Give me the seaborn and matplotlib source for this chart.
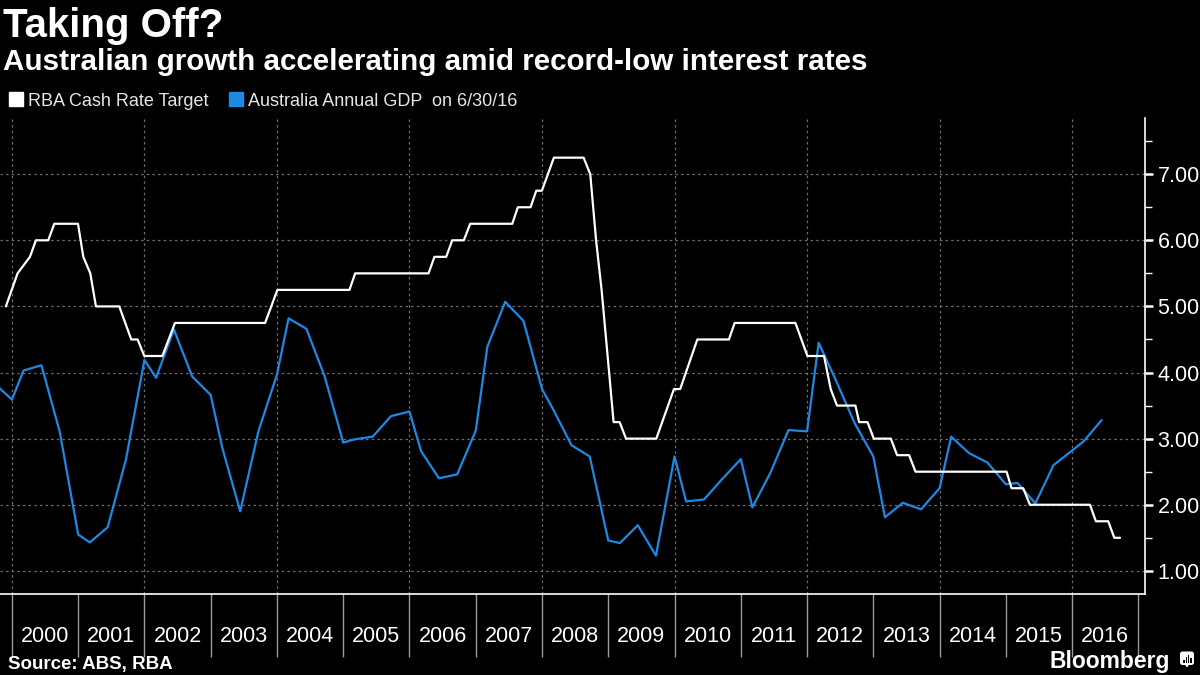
import matplotlib
matplotlib.use("Agg")
import matplotlib.pyplot as plt
import seaborn as sns
import pandas as pd
import numpy as np
from matplotlib import font_manager as fm
from matplotlib.lines import Line2D
from matplotlib.patches import FancyBboxPatch, Rectangle

# ---------------- data ----------------
# RBA cash rate target: vertices of the plotted line (decimal year, %)
rba_dates = [1999.909, 2000.085, 2000.272, 2000.362, 2000.548, 2000.639, 2000.997, 2001.077,
             2001.183, 2001.268, 2001.620, 2001.801, 2001.897, 2001.998, 2002.270, 2002.461,
             2003.821, 2004.006, 2005.094, 2005.180, 2006.287, 2006.377, 2006.554, 2006.645,
             2006.820, 2006.916, 2007.551, 2007.635, 2007.827, 2007.913, 2007.998, 2008.179,
             2008.628, 2008.728, 2008.816, 2008.899, 2008.990, 2009.080, 2009.171, 2009.268,
             2009.725, 2009.991, 2010.085, 2010.344, 2010.821, 2010.907, 2011.824, 2012.005,
             2012.256, 2012.357, 2012.452, 2012.730, 2012.786, 2012.912, 2013.007, 2013.264,
             2013.359, 2013.540, 2013.637, 2015.011, 2015.086, 2015.262, 2015.363, 2016.269,
             2016.359, 2016.545, 2016.637, 2016.723]
rba_rate = [5.00, 5.50, 5.75, 6.00, 6.00, 6.25, 6.25, 5.75,
            5.50, 5.00, 5.00, 4.50, 4.50, 4.25, 4.25, 4.75,
            4.75, 5.25, 5.25, 5.50, 5.50, 5.75, 5.75, 6.00,
            6.00, 6.25, 6.25, 6.50, 6.50, 6.75, 6.75, 7.25,
            7.25, 7.00, 6.00, 5.25, 4.25, 3.25, 3.25, 3.00,
            3.00, 3.75, 3.75, 4.50, 4.50, 4.75, 4.75, 4.25,
            4.25, 3.75, 3.50, 3.50, 3.25, 3.25, 3.00, 3.00,
            2.75, 2.75, 2.50, 2.50, 2.25, 2.25, 2.00, 2.00,
            1.75, 1.75, 1.50, 1.50]

# Australia annual GDP growth (quarterly points, decimal year, %)
gdp_dates = [1999.72,
             2000.0, 2000.175, 2000.445, 2000.72, 2001.0, 2001.175, 2001.445, 2001.72,
             2002.0, 2002.175, 2002.445, 2002.72, 2003.0, 2003.175, 2003.445, 2003.72,
             2004.0, 2004.175, 2004.445, 2004.72, 2005.0, 2005.175, 2005.445, 2005.72,
             2006.0, 2006.175, 2006.445, 2006.72, 2007.0, 2007.175, 2007.445, 2007.72,
             2008.0, 2008.175, 2008.445, 2008.72, 2009.0, 2009.175, 2009.445, 2009.72,
             2010.0, 2010.175, 2010.445, 2010.72, 2011.0, 2011.175, 2011.445, 2011.72,
             2012.0, 2012.175, 2012.445, 2012.72, 2013.0, 2013.175, 2013.445, 2013.72,
             2014.0, 2014.175, 2014.445, 2014.72, 2015.0, 2015.175, 2015.445, 2015.72,
             2016.0, 2016.175, 2016.445]
gdp_growth = [3.85,
              3.59, 4.03, 4.11, 3.11, 1.55, 1.43, 1.66, 2.68,
              4.19, 3.92, 4.65, 3.94, 3.66, 2.86, 1.90, 3.11,
              3.97, 4.82, 4.66, 3.94, 2.94, 2.99, 3.03, 3.34,
              3.41, 2.81, 2.40, 2.46, 3.12, 4.39, 5.07, 4.78,
              3.75, 3.43, 2.90, 2.73, 1.46, 1.42, 1.69, 1.23,
              2.73, 2.05, 2.08, 2.39, 2.69, 1.96, 2.48, 3.13,
              3.11, 4.45, 3.86, 3.23, 2.73, 1.81, 2.03, 1.93,
              2.25, 3.03, 2.78, 2.64, 2.31, 2.33, 2.02, 2.60,
              2.82, 2.96, 3.28]

years = list(range(2000, 2017))
year_labels = [str(y) for y in years]
y_ticks = [1, 2, 3, 4, 5, 6, 7]

title = "Taking Off?"
subtitle = "Australian growth accelerating amid record-low interest rates"
rba_label = "RBA Cash Rate Target"
gdp_label = "Australia Annual GDP  on 6/30/16"
source = "Source: ABS, RBA"

# ---------------- style ----------------
sns.set_style("dark", {"axes.facecolor": "black", "figure.facecolor": "black"})
names = {f.name for f in fm.fontManager.ttflist}
base = "Liberation Sans" if "Liberation Sans" in names else "DejaVu Sans"
plt.rcParams["font.family"] = [base, "DejaVu Sans"]

WHITE = "#ffffff"
BLUE = "#1e88e5"
GRID = "#6e6e6e"

W, H = 1200, 675
fig = plt.figure(figsize=(W / 100, H / 100), dpi=100, facecolor="black")
L, R, T, B = 0, 1145, 118, 594
ax = fig.add_axes([L / W, 1 - B / H, (R - L) / W, (B - T) / H])
ax.set_facecolor("black")

rba_df = pd.DataFrame({"date": rba_dates, "value": rba_rate})
gdp_df = pd.DataFrame({"date": gdp_dates, "value": gdp_growth})

# grid
for yv in y_ticks:
    ax.axhline(yv, color=GRID, lw=0.9, ls=(0, (2, 2.5)), zorder=1)
for yr in years[::2]:
    ax.axvline(yr, color=GRID, lw=0.9, ls=(0, (2, 2.5)), zorder=1)

sns.lineplot(data=gdp_df, x="date", y="value", ax=ax, color=BLUE, lw=1.6,
             estimator=None, sort=False, zorder=3)
sns.lineplot(data=rba_df, x="date", y="value", ax=ax, color=WHITE, lw=1.6,
             estimator=None, sort=False, zorder=4)

ax.set_xlim(1999.82, 2017.1)
ax.set_ylim(0.65, 7.85)
ax.set_xlabel("")
ax.set_ylabel("")

for s in ["left", "top"]:
    ax.spines[s].set_visible(False)
for s in ["right", "bottom"]:
    ax.spines[s].set_visible(True)
    ax.spines[s].set_color(WHITE)
    ax.spines[s].set_linewidth(1.2)

# y axis on right
ax.yaxis.tick_right()
ax.set_yticks(y_ticks)
ax.set_yticklabels([f"{v:.2f}" for v in y_ticks])
ax.set_yticks([v + 0.5 for v in y_ticks], minor=True)
ax.tick_params(axis="y", which="major", direction="out", length=6, width=1.8,
               colors=WHITE, labelsize=15.5, pad=3, right=True, left=False)
ax.tick_params(axis="y", which="minor", direction="out", length=5, width=1,
               color=WHITE, right=True, left=False)

# x axis: separators at year boundaries, labels at mid-year
ax.set_xticks(years + [2017])
ax.set_xticklabels([])
ax.set_xticks([y + 0.5 for y in years], minor=True)
ax.set_xticklabels(year_labels, minor=True)
ax.tick_params(axis="x", which="major", direction="out", length=45, width=1,
               color="#9a9a9a", bottom=True)
ax.tick_params(axis="x", which="minor", length=0, pad=23, labelcolor=WHITE,
               labelsize=15.5)
ax.grid(False)

# titles
fig.text(3 / W, 1 - 37 / H, title, color=WHITE, fontsize=29, fontweight="bold",
         va="baseline", ha="left")
fig.text(3 / W, 1 - 70 / H, subtitle, color=WHITE, fontsize=21.3, fontweight="bold",
         va="baseline", ha="left")

# legend
handles = [Line2D([], [], marker="s", ls="none", color=WHITE, markersize=9.5),
           Line2D([], [], marker="s", ls="none", color=BLUE, markersize=9.5)]
fig.legend(handles, [rba_label, gdp_label], loc="center left",
           bbox_to_anchor=(6 / W, 1 - 101 / H), ncol=2, frameon=False,
           handlelength=0.7, handletextpad=0.3, columnspacing=1.2,
           labelcolor="#e6e6e6", fontsize=13, borderaxespad=0, borderpad=0.2)

# footer
fig.text(8 / W, 1 - 669 / H, source, color=WHITE, fontsize=13.5, fontweight="bold",
         va="baseline", ha="left")
fig.text(1170 / W, 1 - 668 / H, "Bloomberg", color=WHITE, fontsize=16.5,
         fontweight="bold", va="baseline", ha="right")
# small logo icon
ico = fig.add_axes([1179 / W, 1 - 669 / H, 16 / W, 19 / H])
ico.set_xlim(0, 16)
ico.set_ylim(0, 19)
ico.axis("off")
ico.add_patch(FancyBboxPatch((1, 4), 14, 13.5, boxstyle="round,pad=0,rounding_size=2.5",
                             fc=WHITE, ec="none"))
ico.add_patch(plt.Polygon([[6, 4.2], [10, 4.2], [8, 1.5]], closed=True, fc=WHITE, ec="none"))
for bx, bh in [(4.3, 3), (6.6, 6), (8.9, 8), (11.2, 4.5)]:
    ico.add_patch(Rectangle((bx, 6.5), 1.3, bh, fc="black", ec="none"))

fig.savefig("out.png", dpi=100, facecolor="black")
